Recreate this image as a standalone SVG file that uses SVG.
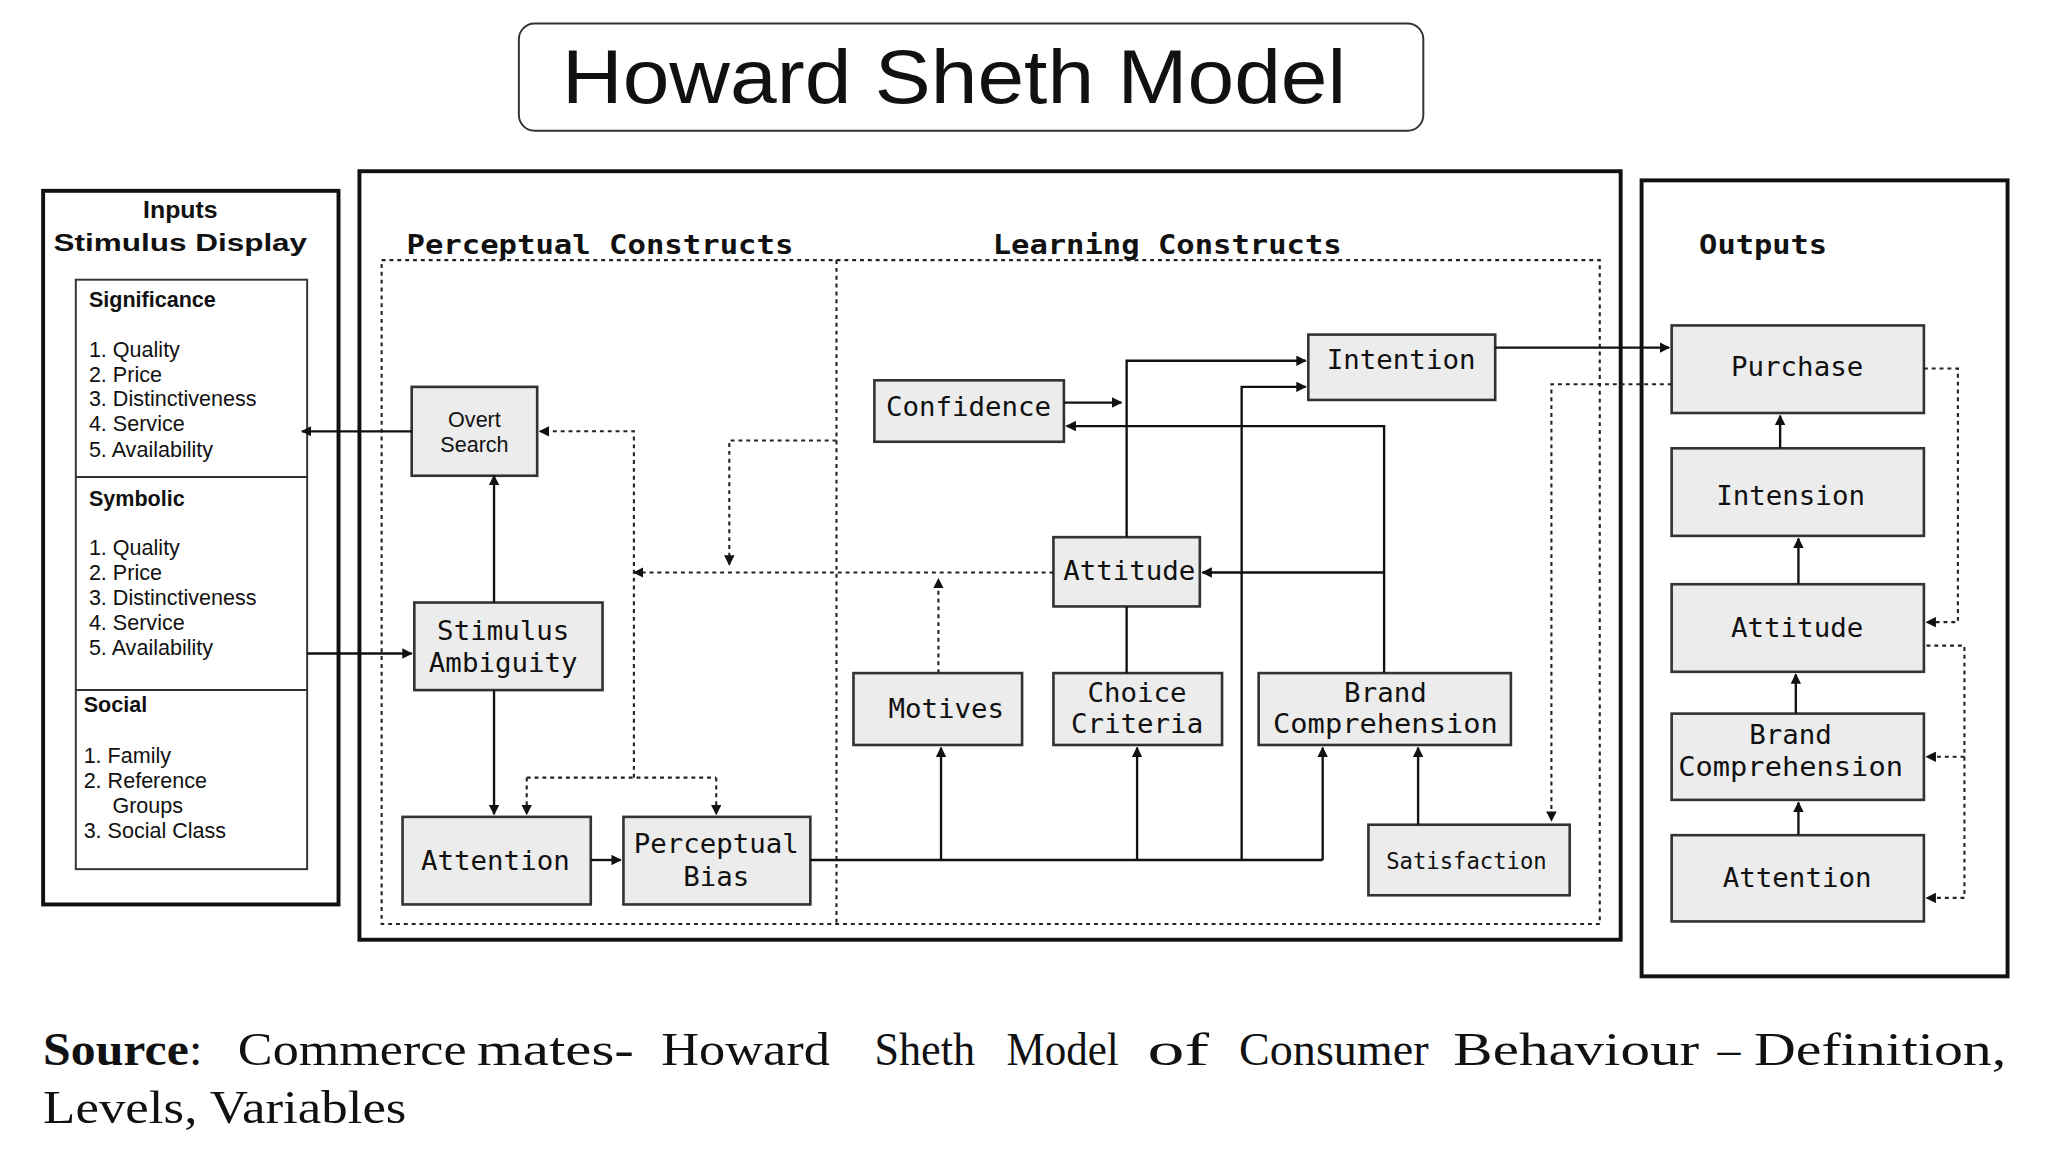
<svg xmlns="http://www.w3.org/2000/svg" width="2048" height="1152" viewBox="0 0 2048 1152">
<defs>
<style>
.frame{fill:none;stroke:#111;stroke-width:3}
.nd{fill:#ececec;stroke:#333;stroke-width:2}
.mono{font-family:"DejaVu Sans Mono","Liberation Mono",monospace;fill:#111;text-anchor:middle}
.sans{font-family:"Liberation Sans",Arial,sans-serif;fill:#111}
.c{fill:none;stroke:#111;stroke-width:1.8}
.d{fill:none;stroke:#222;stroke-width:1.6;stroke-dasharray:3 3}
</style>
<marker id="a" viewBox="0 0 10 10" refX="9" refY="5" markerWidth="8" markerHeight="8" orient="auto" markerUnits="userSpaceOnUse"><path d="M0,0L10,5L0,10z" fill="#111"/></marker>
</defs>
<rect width="2048" height="1152" fill="#fff"/>
<g transform="scale(1.307)">
<g id="title"><rect x="397" y="18" width="692" height="82" rx="12" fill="#fff" stroke="#333" stroke-width="1.5"/>
<text x="430" y="79" class="sans" font-size="58" textLength="600" lengthAdjust="spacingAndGlyphs">Howard Sheth Model</text></g>
<g id="inputs"><rect x="33" y="146" width="226" height="546" class="frame"/>
<text x="138" y="167" class="sans" font-size="19" font-weight="bold" text-anchor="middle">Inputs</text>
<text x="138" y="192" class="sans" font-size="19" font-weight="bold" text-anchor="middle" textLength="194" lengthAdjust="spacingAndGlyphs">Stimulus Display</text>
<rect x="58" y="214" width="177" height="451" fill="#fff" stroke="#333" stroke-width="1.5"/>
<line x1="58" y1="365" x2="235" y2="365" stroke="#333" stroke-width="1.5"/>
<line x1="58" y1="528" x2="235" y2="528" stroke="#333" stroke-width="1.5"/>
<g class="sans" font-size="16.5">
<text x="68" y="235" font-weight="bold">Significance</text>
<text x="68" y="273">1. Quality</text><text x="68" y="292">2. Price</text><text x="68" y="311">3. Distinctiveness</text><text x="68" y="330">4. Service</text><text x="68" y="350">5. Availability</text>
<text x="68" y="387" font-weight="bold">Symbolic</text>
<text x="68" y="425">1. Quality</text><text x="68" y="444">2. Price</text><text x="68" y="463">3. Distinctiveness</text><text x="68" y="482">4. Service</text><text x="68" y="501">5. Availability</text>
<text x="64" y="545" font-weight="bold">Social</text>
<text x="64" y="584">1. Family</text><text x="64" y="603">2. Reference</text><text x="86" y="622">Groups</text><text x="64" y="641">3. Social Class</text>
</g></g>
<g id="process"><rect x="275" y="131" width="965" height="588" class="frame"/>
<rect x="292" y="199" width="932" height="508" class="d"/>
<line x1="640" y1="199" x2="640" y2="707" class="d"/>
<text x="459" y="194" class="mono" font-size="20" font-weight="bold" textLength="296" lengthAdjust="spacingAndGlyphs">Perceptual Constructs</text>
<text x="893" y="194" class="mono" font-size="20" font-weight="bold" textLength="267" lengthAdjust="spacingAndGlyphs">Learning Constructs</text></g>
<g id="outputs"><rect x="1256" y="138" width="280" height="609" class="frame"/>
<text x="1349" y="194" class="mono" font-size="20" font-weight="bold" textLength="98" lengthAdjust="spacingAndGlyphs">Outputs</text></g>
<g id="overt"><rect x="315" y="296" width="96" height="68" class="nd"/><text x="363" y="327" class="sans" font-size="16.5" text-anchor="middle">Overt</text><text x="363" y="346" class="sans" font-size="16.5" text-anchor="middle">Search</text></g>
<g id="stim"><rect x="317" y="461" width="144" height="67" class="nd"/><text x="385" y="490" class="mono" font-size="21">Stimulus</text><text x="385" y="514" class="mono" font-size="21">Ambiguity</text></g>
<g id="att"><rect x="308" y="625" width="144" height="67" class="nd"/><text x="379" y="666" class="mono" font-size="21">Attention</text></g>
<g id="pbias"><rect x="477" y="625" width="143" height="67" class="nd"/><text x="548" y="653" class="mono" font-size="21">Perceptual</text><text x="548" y="678" class="mono" font-size="21">Bias</text></g>
<g id="conf"><rect x="669" y="291" width="145" height="47" class="nd"/><text x="741" y="318" class="mono" font-size="21">Confidence</text></g>
<g id="intent"><rect x="1001" y="256" width="143" height="50" class="nd"/><text x="1072" y="282" class="mono" font-size="21">Intention</text></g>
<g id="attitude"><rect x="806" y="411" width="112" height="53" class="nd"/><text x="864" y="444" class="mono" font-size="21">Attitude</text></g>
<g id="motives"><rect x="653" y="515" width="129" height="55" class="nd"/><text x="724" y="549" class="mono" font-size="21">Motives</text></g>
<g id="choice"><rect x="806" y="515" width="129" height="55" class="nd"/><text x="870" y="537" class="mono" font-size="21">Choice</text><text x="870" y="561" class="mono" font-size="21">Criteria</text></g>
<g id="brand"><rect x="963" y="515" width="193" height="55" class="nd"/><text x="1060" y="537" class="mono" font-size="21">Brand</text><text x="1060" y="561" class="mono" font-size="21" textLength="172" lengthAdjust="spacingAndGlyphs">Comprehension</text></g>
<g id="satis"><rect x="1047" y="631" width="154" height="54" class="nd"/><text x="1122" y="665" class="mono" font-size="17">Satisfaction</text></g>
<g id="o-purchase"><rect x="1279" y="249" width="193" height="67" class="nd"/><text x="1375" y="288" class="mono" font-size="21">Purchase</text></g>
<g id="o-intension"><rect x="1279" y="343" width="193" height="67" class="nd"/><text x="1370" y="386" class="mono" font-size="21">Intension</text></g>
<g id="o-attitude"><rect x="1279" y="447" width="193" height="67" class="nd"/><text x="1375" y="487" class="mono" font-size="21">Attitude</text></g>
<g id="o-brand"><rect x="1279" y="546" width="193" height="66" class="nd"/><text x="1370" y="569" class="mono" font-size="21">Brand</text><text x="1370" y="594" class="mono" font-size="21" textLength="172" lengthAdjust="spacingAndGlyphs">Comprehension</text></g>
<g id="o-attention"><rect x="1279" y="639" width="193" height="66" class="nd"/><text x="1375" y="679" class="mono" font-size="21">Attention</text></g>
<g id="connectors">
<path class="c" d="M315,330H231" marker-end="url(#a)"/>
<path class="c" d="M378,461V364" marker-end="url(#a)"/>
<path class="c" d="M235,500H315" marker-end="url(#a)"/>
<path class="c" d="M378,528V623" marker-end="url(#a)"/>
<path class="c" d="M452,658H475" marker-end="url(#a)"/>
<path class="d" d="M485,595V330H413" marker-end="url(#a)"/>
<path class="d" d="M403,595H548"/>
<path class="d" d="M403,595V623" marker-end="url(#a)"/>
<path class="d" d="M548,595V623" marker-end="url(#a)"/>
<path class="c" d="M620,658H1012"/>
<path class="c" d="M720,658V572" marker-end="url(#a)"/>
<path class="c" d="M870,658V572" marker-end="url(#a)"/>
<path class="c" d="M1012,658V572" marker-end="url(#a)"/>
<path class="c" d="M950,658V296H999" marker-end="url(#a)"/>
<path class="c" d="M862,515V464"/>
<path class="c" d="M862,411V276H999" marker-end="url(#a)"/>
<path class="c" d="M814,308H858" marker-end="url(#a)"/>
<path class="c" d="M1059,515V326H816" marker-end="url(#a)"/>
<path class="c" d="M1059,438H920" marker-end="url(#a)"/>
<path class="c" d="M1085,631V572" marker-end="url(#a)"/>
<path class="d" d="M806,438H485" marker-end="url(#a)"/>
<path class="d" d="M718,515V443" marker-end="url(#a)"/>
<path class="d" d="M640,337H558V432" marker-end="url(#a)"/>
<path class="c" d="M1144,266H1277" marker-end="url(#a)"/>
<path class="d" d="M1279,294H1187V628" marker-end="url(#a)"/>
<path class="c" d="M1362,343V318" marker-end="url(#a)"/>
<path class="c" d="M1376,447V412" marker-end="url(#a)"/>
<path class="c" d="M1374,546V516" marker-end="url(#a)"/>
<path class="c" d="M1376,639V614" marker-end="url(#a)"/>
<path class="d" d="M1472,282H1498V476H1474" marker-end="url(#a)"/>
<path class="d" d="M1474,494H1503V687H1474" marker-end="url(#a)"/>
<path class="d" d="M1503,579H1474" marker-end="url(#a)"/>
</g>
<g id="source" font-family="'Liberation Serif','Times New Roman',serif" font-size="35" fill="#111">
<text x="33" y="815" textLength="122" lengthAdjust="spacingAndGlyphs"><tspan font-weight="bold">Source</tspan>:</text>
<text x="182" y="815" textLength="175" lengthAdjust="spacingAndGlyphs">Commerce</text>
<text x="365" y="815" textLength="120" lengthAdjust="spacingAndGlyphs">mates-</text>
<text x="506" y="815" textLength="129" lengthAdjust="spacingAndGlyphs">Howard</text>
<text x="669" y="815" textLength="77" lengthAdjust="spacingAndGlyphs">Sheth</text>
<text x="770" y="815" textLength="86" lengthAdjust="spacingAndGlyphs">Model</text>
<text x="878" y="815" textLength="47" lengthAdjust="spacingAndGlyphs">of</text>
<text x="948" y="815" textLength="145" lengthAdjust="spacingAndGlyphs">Consumer</text>
<text x="1112" y="815" textLength="188" lengthAdjust="spacingAndGlyphs">Behaviour</text>
<text x="1314" y="815">–</text>
<text x="1342" y="815" textLength="193" lengthAdjust="spacingAndGlyphs">Definition,</text>
<text x="33" y="859" textLength="278" lengthAdjust="spacingAndGlyphs">Levels, Variables</text>
</g>
</g>
</svg>
